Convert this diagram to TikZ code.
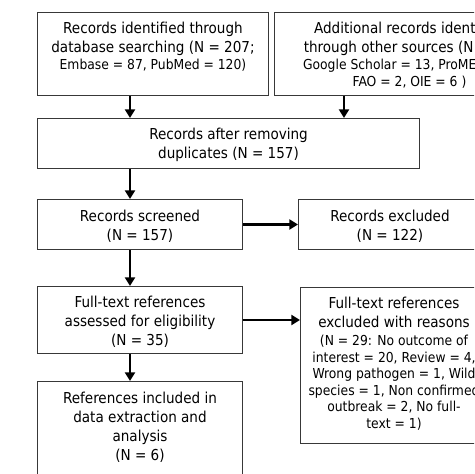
\documentclass[tikz,border=0pt]{standalone}
\usepackage{fontspec}
\setmainfont{DejaVu Sans Condensed}
\usetikzlibrary{arrows.meta}
\newdimen\pxu \pxu=0.75pt
\newcommand\Lg{\fontsize{11.3pt}{14.2pt}\selectfont}
\newcommand\Sm{\fontsize{10.3pt}{12.45pt}\selectfont}
\newcommand\bt[4]{\parbox[c][#2\pxu][t]{#1\pxu}{\parskip=0pt\centering\vspace*{#3\pxu}#4\par}}
\tikzset{
  box/.style={draw=black!78, line width=0.75pt, inner sep=0pt, anchor=north west},
  arr/.style={line width=2.1pt, -{Triangle[length=6.5pt,width=7.5pt]}}
}
\begin{document}
\begin{tikzpicture}[x=0.75pt,y=-0.75pt]
\useasboundingbox (0,0) rectangle (474,474);
\clip (0,0) rectangle (474,474);
\fill[white] (0,0) rectangle (474,474);
\coordinate (ax) at (130,0);
\coordinate (bx) at (344,0);
\node[box] (b1) at (37,12) {\bt{231}{83}{9.5}{{\Lg Records identified through\\database searching (N = 207;\par}{\Sm\vspace{0.5\pxu} Embase = 87, PubMed = 120)\par}}};
\node[box] (b2) at (274,12) {\bt{270}{83}{9.5}{{\Lg Additional records identified\\through other sources (N = 27;\par}{\Sm\vspace{0.5\pxu}Google Scholar = 13, ProMED = 6,\\FAO = 2, OIE = 6 )\par}}};
\node[box] (b3) at (37,118) {\bt{382}{50}{9.5}{\Lg Records after removing\\ duplicates (N = 157)}};
\node[box] (b4) at (37,199) {\bt{205}{50}{10.5}{\Lg Records screened\\ (N = 157)}};
\node[box] (b5) at (298,199) {\bt{183}{50}{10.5}{\Lg Records excluded\\ (N = 122)}};
\node[box] (b6) at (37,286) {\bt{205}{67}{9.5}{\Lg Full-text references\\assessed for eligibility\\(N = 35)}};
\node[box] (b7) at (300,287) {\bt{187}{156}{9.5}{{\Lg Full-text references\\excluded with reasons\par}{\Sm\vspace{1.5\pxu}(N = 29: No outcome of\\interest = 20, Review = 4,\\Wrong pathogen = 1, Wild\\species = 1, Non confirmed\\outbreak = 2, No full-\\text = 1)\par}}};
\node[box] (b8) at (37,381) {\bt{205}{100}{10.5}{\Lg References included in\\data extraction and\\analysis\\ (N = 6)}};
\draw[arr] (b1.south -| ax) -- (b3.north -| ax);
\draw[arr] (b2.south -| bx) -- (b3.north -| bx);
\draw[arr] (b3.south -| ax) -- (b4.north -| ax);
\draw[arr] (b4.east) -- (b5.west);
\draw[arr] (b4.south -| ax) -- (b6.north -| ax);
\draw[arr] (b6.east) -- (b6.east -| b7.west);
\draw[arr] (b6.south -| ax) -- (b8.north -| ax);
\end{tikzpicture}
\end{document}
